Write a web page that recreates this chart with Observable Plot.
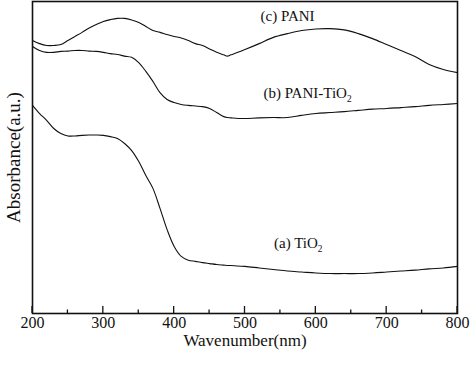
<!DOCTYPE html>
<html>
<head>
<meta charset="utf-8">
<script src="https://cdn.jsdelivr.net/npm/d3@7"></script>
<script src="https://cdn.jsdelivr.net/npm/@observablehq/plot@0.6"></script>
<style>
  body { margin: 0; background: #fff; }
</style>
</head>
<body>
<div id="chart"></div>
<script>
const wavelengths = [200,210,220,230,240,250,260,270,280,290,300,310,320,330,340,350,360,370,380,390,400,410,420,430,440,450,460,470,475,480,490,500,520,540,560,580,600,620,640,660,680,700,720,740,760,780,800];
const absPANI = [87.5,86.5,85.9,85.9,86.2,87.5,88.8,90.1,91.5,92.6,93.6,94.2,94.6,94.6,94.1,93.3,92.0,90.7,90.1,89.4,88.8,88.3,87.5,86.5,85.9,84.8,83.7,82.9,82.5,82.9,83.7,84.6,86.5,88.5,89.7,90.7,91.2,91.3,90.9,89.7,88.1,86.2,84.3,82.4,79.8,78.2,77.2];
const absPANITiO2 = [85.6,84.3,83.7,83.7,84.0,84.1,84.3,84.3,84.1,84.0,83.7,83.3,83.0,82.5,82.1,80.4,77.6,74.4,70.8,68.6,67.6,67.0,66.7,66.5,66.3,65.7,64.4,63.1,62.8,62.7,62.5,62.5,62.7,62.8,62.8,63.5,64.1,64.4,64.7,65.1,65.5,65.7,66.0,66.3,66.7,67.0,67.3];
const absTiO2 = [66.7,64.1,61.9,59.3,57.7,56.9,56.9,57.1,57.2,57.2,57.1,56.7,56.1,54.5,52.2,48.7,44.2,40.1,33.7,26.9,21.5,18.3,17.1,16.7,16.3,16.0,15.7,15.5,15.4,15.4,15.2,15.1,14.6,14.1,13.6,13.3,13.0,12.8,12.8,12.8,13.0,13.3,13.6,13.9,14.3,14.6,15.1];
const seriesNames = ["(c) PANI", "(b) PANI-TiO2", "(a) TiO2"];
const majorTicks = [200,300,400,500,600,700,800];
const minorTicks = [250,350,450,550,650,750];
const xLabel = "Wavenumber(nm)";
const yLabel = "Absorbance(a.u.)";

const rows = [];
[absPANI, absPANITiO2, absTiO2].forEach((vals, i) => {
  vals.forEach((v, j) => rows.push({series: seriesNames[i], wl: wavelengths[j], a: v}));
});

// label anchors (data coordinates)
const labels = [
  {text: seriesNames[0], wl: 522, a: 95.3},
  {text: seriesNames[1], wl: 526, a: 70.5},
  {text: seriesNames[2], wl: 541, a: 22.4}
];

const serif = "'Liberation Serif', 'Times New Roman', Times, serif";

const chart = Plot.plot({
  width: 474,
  height: 376,
  marginLeft: 32,
  marginRight: 17,
  marginTop: 1,
  marginBottom: 63,
  style: {fontFamily: serif, background: "#fff"},
  x: {domain: [200, 800]},
  y: {domain: [0, 100], axis: null},
  marks: [
    Plot.line(rows, {x: "wl", y: "a", z: "series", stroke: "#111", strokeWidth: 1.1, curve: "catmull-rom"}),
    Plot.axisX(majorTicks, {tickSize: 0, tickPadding: 3, fontSize: 16, fill: "#111", label: null}),
    Plot.frame({stroke: "#111", strokeWidth: 1.6}),
    Plot.text(labels, {x: "wl", y: "a", text: "text", textAnchor: "start", fontSize: 15, fill: "#111"}),
    Plot.text([xLabel], {frameAnchor: "bottom", dy: 32, text: d => d, textAnchor: "middle", fontSize: 17, fill: "#111"}),
    Plot.text([yLabel], {frameAnchor: "left", rotate: -90, dx: -19, text: d => d, textAnchor: "middle", fontSize: 19, fill: "#111"})
  ]
});

// inward x ticks drawn with the chart's own x scale
const svgns = "http://www.w3.org/2000/svg";
const xs = chart.scale("x");
const bottom = 376 - 63;
const tickG = d3.select(chart).append("g").attr("stroke", "#111").attr("stroke-width", 1.3);
majorTicks.forEach(v => tickG.append("line").attr("x1", xs.apply(v)).attr("x2", xs.apply(v)).attr("y1", bottom).attr("y2", bottom - 7));
minorTicks.forEach(v => tickG.append("line").attr("x1", xs.apply(v)).attr("x2", xs.apply(v)).attr("y1", bottom).attr("y2", bottom - 3.5));

// subscript 2 in TiO2
chart.querySelectorAll("text").forEach(t => {
  if (t.children.length === 0 && t.textContent.endsWith("TiO2")) {
    const base = t.textContent.slice(0, -1);
    t.textContent = base;
    const ts = document.createElementNS(svgns, "tspan");
    ts.setAttribute("dy", "0.4em");
    ts.setAttribute("font-size", "0.62em");
    ts.textContent = "2";
    t.appendChild(ts);
  }
});
document.getElementById("chart").appendChild(chart);
</script>
</body>
</html>
